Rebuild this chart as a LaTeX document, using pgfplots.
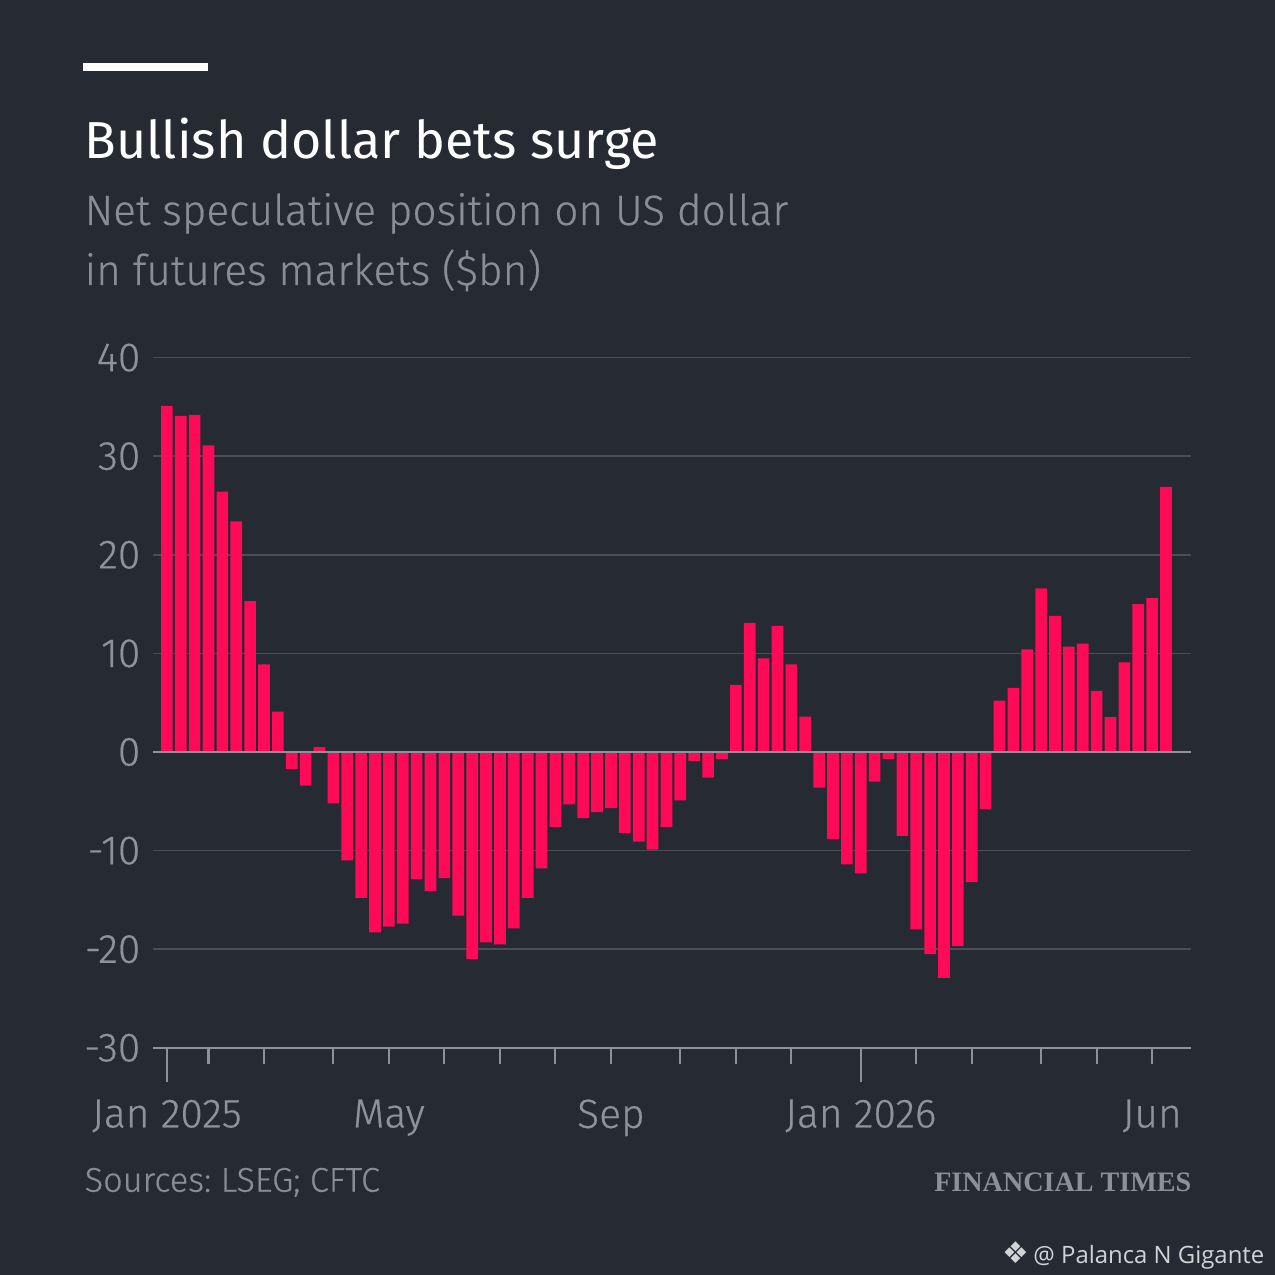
\documentclass[border=0pt]{standalone}
\usepackage{fontspec}
\setmainfont{Fira Sans}
\newfontfamily\lightfont{Fira Sans Light}[FakeBold=0.5]
\newfontfamily\ftfont{Liberation Serif}
\newfontfamily\djv{DejaVu Sans}
\newfontfamily\wmfont{Open Sans}
\usepackage{pgfplots}
\pgfplotsset{compat=1.18}
\usepackage{pgfplotstable}
\frenchspacing
\definecolor{bg}{HTML}{262A33}
\definecolor{barc}{HTML}{FF0A56}
\definecolor{gridc}{HTML}{4A4E57}
\definecolor{zeroc}{HTML}{8E9197}
\definecolor{axisc}{HTML}{8E9197}
\definecolor{labc}{HTML}{8F9299}
\definecolor{subc}{HTML}{8A8D94}
\definecolor{ftc}{HTML}{8D9097}
\definecolor{wmc}{HTML}{D2D3D5}

\pgfplotstableread{
x y
0 35.1
1 34.1
2 34.2
3 31.1
4 26.4
5 23.4
6 15.3
7 8.9
8 4.1
9 -1.7
10 -3.4
11 0.5
12 -5.2
13 -11.0
14 -14.8
15 -18.3
16 -17.7
17 -17.4
18 -12.9
19 -14.1
20 -12.8
21 -16.6
22 -21.0
23 -19.3
24 -19.5
25 -17.9
26 -14.8
27 -11.8
28 -7.6
29 -5.3
30 -6.7
31 -6.1
32 -5.7
33 -8.2
34 -9.1
35 -9.9
36 -7.6
37 -4.9
38 -0.9
39 -2.6
40 -0.7
41 6.8
42 13.1
43 9.5
44 12.8
45 8.9
46 3.6
47 -3.6
48 -8.8
49 -11.4
50 -12.3
51 -3.0
52 -0.7
53 -8.5
54 -18.0
55 -20.5
56 -22.9
57 -19.7
58 -13.2
59 -5.8
60 5.2
61 6.5
62 10.4
63 16.6
64 13.8
65 10.7
66 11.0
67 6.2
68 3.55
69 9.1
70 15.0
71 15.6
72 26.9
}\data

\begin{document}
\begin{tikzpicture}
\fill[bg] (0,0) rectangle (12.75cm,12.75cm);
\fill[white] (0.83cm,12.04cm) rectangle (2.08cm,12.12cm);
\node[anchor=base west, inner sep=0pt, text=white, font=\fontsize{14.8}{17}\selectfont] at (0.84cm,11.167cm) {Bullish dollar bets surge};
\node[anchor=base west, inner sep=0pt, text=subc, font=\lightfont\fontsize{12.05}{14}\selectfont] at (0.84cm,10.50cm) {Net speculative position on US dollar};
\node[anchor=base west, inner sep=0pt, text=subc, font=\lightfont\fontsize{12.05}{14}\selectfont] at (0.84cm,9.90cm) {in futures markets (\$bn)};
\node[anchor=base west, inner sep=0pt, text=subc, font=\lightfont\fontsize{9.75}{11}\selectfont] at (0.84cm,0.833cm) {Sources: LSEG; CFTC};
\node[anchor=base east, inner sep=0pt, text=ftc, font=\ftfont\bfseries\fontsize{8}{9}\selectfont] at (11.92cm,0.833cm) {FINANCIAL TIMES};
\node[anchor=base east, inner sep=0pt, text=wmc, font=\wmfont\fontsize{6.8}{8}\selectfont] at (12.65cm,0.12cm) {{\djv\fontsize{8.5}{9}\selectfont ❖}\,@ Palanca N Gigante};
\begin{axis}[
  at={(1.53cm,2.272cm)}, anchor=south west,
  scale only axis, width=10.38cm, height=6.902cm,
  xmin=-1, xmax=73.8, ymin=-30, ymax=40,
  axis x line*=bottom, axis y line*=left,
  y axis line style={draw=none},
  x axis line style={color=axisc, line width=0.6pt},
  ytick={-30,-20,-10,0,10,20,30,40},
  yticklabels={-30,-20,-10,0,10,20,30,40},
  ymajorgrids, grid style={color=gridc, line width=0.45pt},
  ytick style={draw=none},
  yticklabel style={inner sep=0pt, anchor=east, xshift=0.04cm, text=labc, font=\lightfont\fontsize{11.6}{13}\selectfont},
  xtick={0,3,7,12,16,20,24,28,32,37,41,45,50,54,58,63,67,71},
  xticklabels={Jan 2025,,,,May,,,,Sep,,,,Jan 2026,,,,,Jun},
  tick align=outside, major tick length=0.16cm,
  xtick style={color=axisc, line width=0.6pt},
  xticklabel style={inner sep=0pt, anchor=north, yshift=-0.35cm, text=labc, font=\lightfont\fontsize{11.6}{13}\selectfont},
  extra x ticks={0,50}, extra x tick labels={},
  extra x tick style={major tick length=0.34cm},
  clip=false,
]
\addplot[ybar, bar width=0.84, bar shift=0pt, fill=barc, draw=none] table[x=x,y=y] {\data};
\draw[color=zeroc, line width=0.6pt] (axis cs:-1,0) -- (axis cs:73.8,0);
\end{axis}
\end{tikzpicture}
\end{document}
